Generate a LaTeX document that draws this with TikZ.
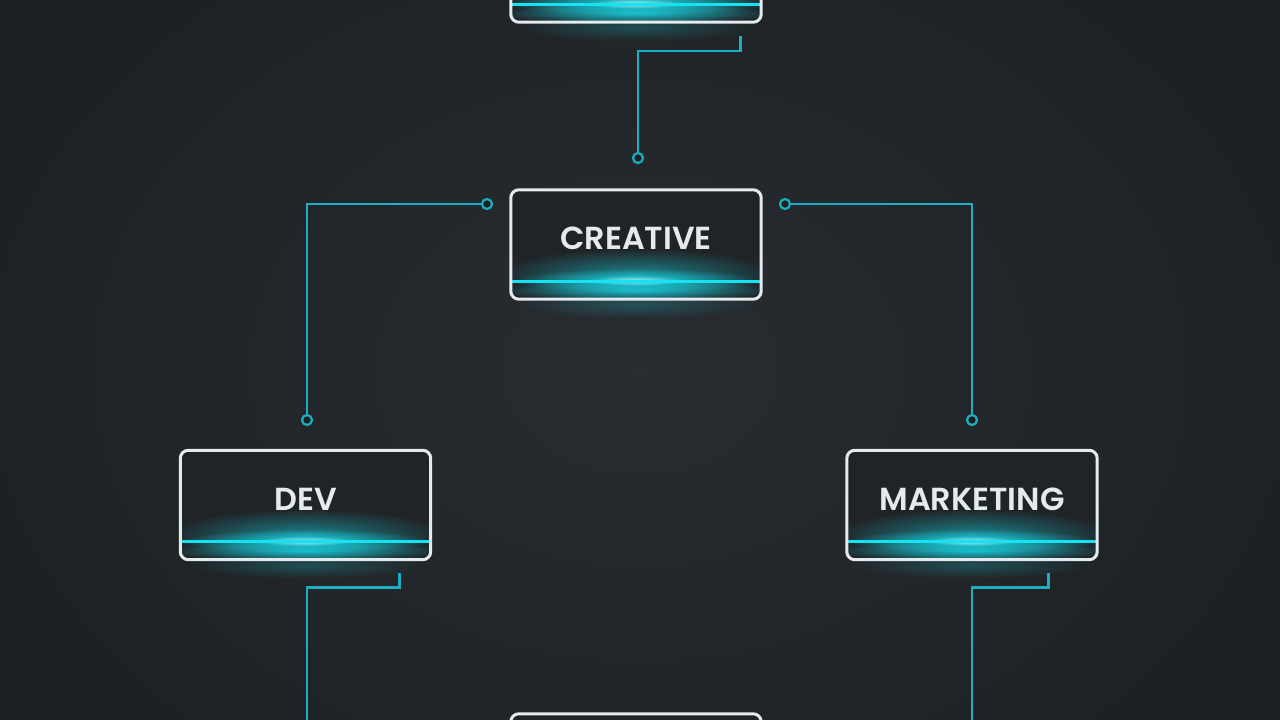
\documentclass[tikz,border=0pt]{standalone}
\usepackage{fontspec}
\setmainfont{Poppins}[BoldFont={Poppins SemiBold}]
\usetikzlibrary{fadings,calc}
\definecolor{bgc}{HTML}{1E2124}
\definecolor{bgl}{HTML}{2C3035}
\definecolor{boxfill}{HTML}{202427}
\definecolor{edge}{HTML}{E4EBEE}
\definecolor{teal}{HTML}{1CAFC2}
\definecolor{glow}{HTML}{18E2F2}
\tikzfading[name=glowfade, inner color=transparent!0, outer color=transparent!100]
\tikzset{
  boxbase/.style={minimum width=250bp, minimum height=109bp, inner sep=0pt, fill=boxfill, rounded corners=8bp},
  boxedge/.style={draw=edge, line width=3bp, rounded corners=8bp},
  conn/.style={draw=teal, line width=2.6bp},
  dot/.style={circle, draw=teal, line width=2.2bp, fill=bgc, minimum size=10bp, inner sep=0pt},
  lbl/.style={text=edge, font=\fontsize{32}{36}\selectfont\bfseries}
}
\newcommand\mybox[4]{%
  \node[boxbase] (#1) at (#2,#3) {};
  \begin{scope}
    \clip[rounded corners=8bp] (#1.north west) rectangle (#1.south east);
    \fill[glow, opacity=0.5, path fading=glowfade] (#2,#3+30) ellipse (140bp and 26bp);
    \fill[glow, opacity=0.85, path fading=glowfade] (#2,#3+36) ellipse (125bp and 12bp);
    \fill[glow, opacity=0.75, path fading=glowfade] (#2,#3+46) ellipse (140bp and 10bp);
    \fill[white, opacity=0.6, path fading=glowfade] (#2,#3+36) ellipse (45bp and 5bp);
    \draw[glow, line width=3bp] ($(#1.south west)+(0,18bp)$) -- ($(#1.south east)+(0,18bp)$);
  \end{scope}
  \fill[glow, opacity=0.22, path fading=glowfade] (#2,#3+60) ellipse (120bp and 14bp);
  \node[lbl] (#1t) at (#2,#3-6) {#4};
  \draw[boxedge] (#1.north west) rectangle (#1.south east);
}
\begin{document}
\begin{tikzpicture}[x=1bp,y=-1bp]
\useasboundingbox (0,0) rectangle (1280,720);
\clip (0,0) rectangle (1280,720);
\fill[bgc] (0,0) rectangle (1280,720);
\fill[bgl, opacity=0.8, path fading=glowfade] (640,370) ellipse (700bp and 520bp);

\mybox{top}{636}{-32.5}{}
\mybox{creative}{636}{244.5}{CREATIVE}
\mybox{dev}{305.5}{505}{DEV}
\mybox{marketing}{972}{505}{MARKETING}
\mybox{bottom}{636}{768.5}{}

\node[dot] (p1) at (638,158) {};
\node[dot] (p2) at (487,204) {};
\node[dot] (p3) at (307,420) {};
\node[dot] (p4) at (785,204) {};
\node[dot] (p5) at (972,420) {};
\coordinate (e1) at (307,730);
\coordinate (e2) at (972,730);

\draw[conn] ([xshift=-21bp,yshift=-14bp]top.south east) -- ++(0,15) -| (p1.north);
\draw[conn] (p2.west) -| (p3.north);
\draw[conn] (p4.east) -| (p5.north);
\draw[conn] ([xshift=-31bp,yshift=-13bp]dev.south east) -- ++(0,15) -| (e1);
\draw[conn] ([xshift=-49bp,yshift=-13bp]marketing.south east) -- ++(0,15) -| (e2);
\end{tikzpicture}
\end{document}
